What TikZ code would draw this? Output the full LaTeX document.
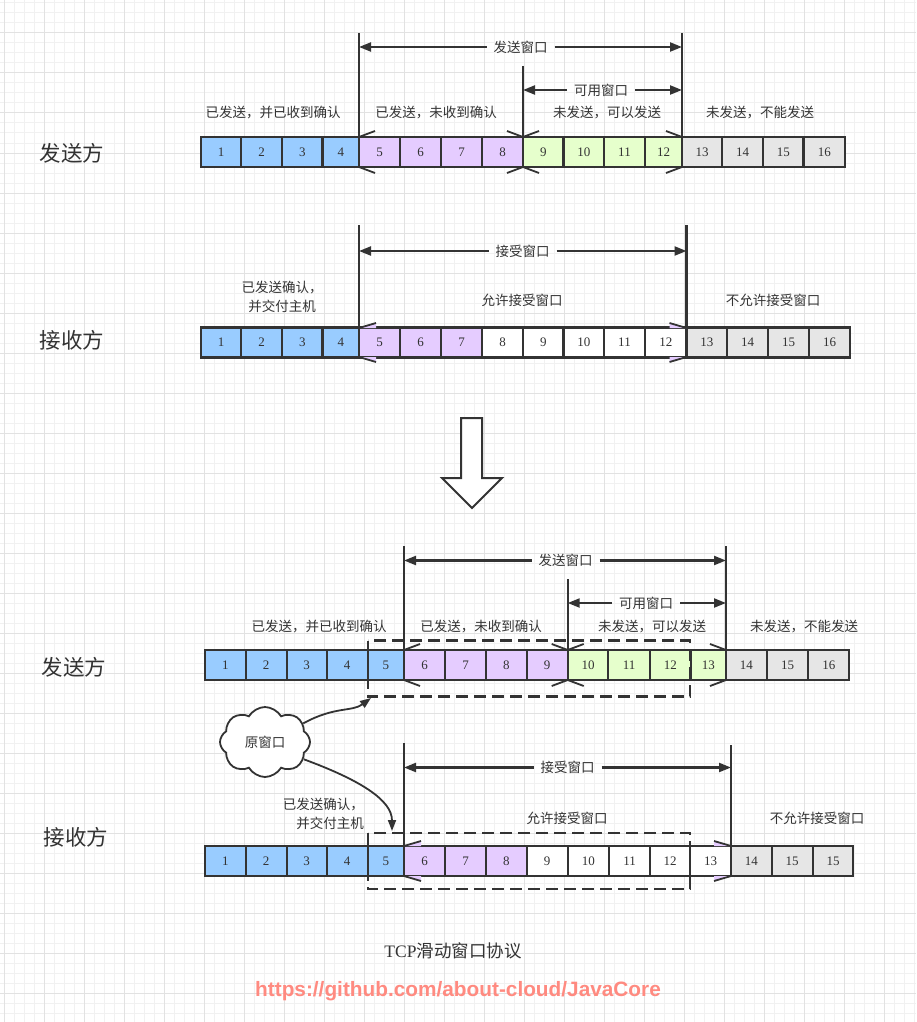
\documentclass[tikz,border=0pt]{standalone}
\usepackage{fontspec}
\setmainfont{Liberation Serif}
\newfontfamily\cjk{Noto Sans CJK SC}
\newfontfamily\urlfont{Liberation Sans}
\usetikzlibrary{arrows.meta,shapes.symbols}
\definecolor{ink}{HTML}{333333}
\definecolor{cblue}{HTML}{99CCFF}
\definecolor{cpurp}{HTML}{E5CCFF}
\definecolor{cgreen}{HTML}{E6FFCC}
\definecolor{cgray}{HTML}{E6E6E6}
\definecolor{gmin}{HTML}{F1F1F1}
\definecolor{gmaj}{HTML}{E2E2E2}
\definecolor{urlc}{HTML}{FF8A80}
\tikzset{
 cell/.style={draw=ink, line width=2.2pt, inner sep=0pt, outer sep=0pt, minimum height=30pt, font=\fontsize{13}{13}\selectfont, text=ink},
 lbl/.style={font=\cjk\fontsize{13.5}{18.3}\selectfont, text=ink, inner sep=0pt},
 side/.style={font=\cjk\fontsize{21.5}{24}\selectfont, text=ink, inner sep=0pt},
 wline/.style={draw=ink, line width=2.2pt},
 warr/.style={draw=ink, line width=2.2pt, -{Triangle[length=12pt,width=9pt]}},
 wlab/.style={lbl, outer sep=7pt},
 tickst/.style={draw=ink, line width=1.8pt},
 dashbox/.style={draw=ink, line width=2.4pt, dash pattern=on 12pt off 6pt},
 carr/.style={draw=ink, line width=1.8pt, -{Triangle[length=11pt,width=8pt]}},
}
\newcommand\cellrow[3]{%
 \foreach \a/\b/\t/\c [count=\i] in {#3}{%
   \node[cell, fill=\c, minimum width={\b-\a}] (#1\i) at ({(\a+\b)/2},#2) {\t};}}
\newcommand\tickR[3]{\draw[tickst] (#1,#2) -- ++(16,-6); \draw[tickst] (#1,#3) -- ++(16,6);}
\newcommand\tickL[3]{\draw[tickst] (#1,#2) -- ++(-16,-6); \draw[tickst] (#1,#3) -- ++(-16,6);}
\newcommand\tickX[3]{\tickR{#1}{#2}{#3}\tickL{#1}{#2}{#3}}
\newcommand\tickRf[3]{\fill[cpurp] (#1,#2) -- ++(17,-5) -- ++(0,5) -- cycle;
  \fill[cpurp] (#1,#3) -- ++(17,5) -- ++(0,-5) -- cycle;
  \draw[tickst] (#1,#2) -- ++(17,-5); \draw[tickst] (#1,#3) -- ++(17,5);}
\newcommand\tickLf[3]{\fill[cpurp] (#1,#2) -- ++(-17,-5) -- ++(0,5) -- cycle;
  \fill[cpurp] (#1,#3) -- ++(-17,5) -- ++(0,-5) -- cycle;
  \draw[tickst] (#1,#2) -- ++(-17,-5); \draw[tickst] (#1,#3) -- ++(-17,5);}
\begin{document}
\begin{tikzpicture}[x=1pt,y=-1pt]
\useasboundingbox (0,0) rectangle (916,1022);
\fill[white] (0,0) rectangle (916,1022);
% grid
\foreach \x in {4,14,...,914} \draw[gmin, line width=1pt] (\x,0) -- (\x,1022);
\foreach \y in {3,13,...,1013} \draw[gmin, line width=1pt] (0,\y) -- (916,\y);
\foreach \x in {4,44,...,884} \draw[gmaj, line width=1pt] (\x,0) -- (\x,1022);
\foreach \y in {33,73,...,993} \draw[gmaj, line width=1pt] (0,\y) -- (916,\y);

% ===== top sender =====
\node[side] (sendT) at (72,153) {发送方};
\cellrow{s}{152}{201/241/1/cblue,241/282/2/cblue,282/322.5/3/cblue,322.5/359/4/cblue,359/400/5/cpurp,400/441/6/cpurp,441/482/7/cpurp,482/523/8/cpurp,523/563.5/9/cgreen,563.5/604/10/cgreen,604/645/11/cgreen,645/682/12/cgreen,682/722/13/cgray,722/763/14/cgray,763/803.5/15/cgray,803.5/845/16/cgray}
\coordinate (sA) at (359,33);
\coordinate (sB) at (682,33);
\coordinate (sC) at (523,66);
\draw[wline] (sA) -- (s5.north west);
\draw[wline] (sB) -- (s13.north west);
\draw[wline] (sC) -- (s9.north west);
\node[wlab] (sw) at (520.5,47) {发送窗口};
\draw[warr] (sw.west) -- (sA |- sw.west);
\draw[warr] (sw.east) -- (sB |- sw.east);
\node[wlab] (sa) at (601,90) {可用窗口};
\draw[warr] (sa.west) -- (sC |- sa.west);
\draw[warr] (sa.east) -- (sB |- sa.east);
\node[lbl] (sl1) at (273,113) {已发送，并已收到确认};
\node[lbl] (sl2) at (436,113) {已发送，未收到确认};
\node[lbl] (sl3) at (607,113) {未发送，可以发送};
\node[lbl] (sl4) at (760,113) {未发送，不能发送};
\tickR{359}{137}{167}
\tickX{523}{137}{167}
\tickL{682}{137}{167}

% ===== top receiver =====
\node[side] (recvT) at (72,340) {接收方};
\cellrow{r}{342.5}{201/241/1/cblue,241/282/2/cblue,282/322.5/3/cblue,322.5/359/4/cblue,359/400/5/cpurp,400/441/6/cpurp,441/482/7/cpurp,482/523/8/white,523/563.5/9/white,563.5/604/10/white,604/645/11/white,645/686.5/12/white,686.5/727/13/cgray,727/768/14/cgray,768/809/15/cgray,809/850/16/cgray}
\coordinate (rA) at (359,225);
\coordinate (rB) at (686.5,225);
\draw[wline] (rA) -- (r5.north west);
\draw[wline] (rB) -- (r13.north west);
\node[wlab] (rw) at (522.5,251) {接受窗口};
\draw[warr] (rw.west) -- (rA |- rw.west);
\draw[warr] (rw.east) -- (rB |- rw.east);
\node[lbl, align=center] (rl1) at (282,297) {已发送确认，\\并交付主机};
\node[lbl] (rl2) at (522,300) {允许接受窗口};
\node[lbl] (rl3) at (773,300) {不允许接受窗口};
\tickRf{359}{328}{357}
\tickLf{686.5}{328}{357}

% ===== big down arrow =====
\draw[ink, line width=2pt, fill=white] (461,418) -- (482,418) -- (482,478) -- (502,478) -- (472,508) -- (442,478) -- (461,478) -- cycle;

% ===== bottom sender =====
\node[side] (sendB) at (74,667) {发送方};
\cellrow{b}{665}{205/245.7/1/cblue,245.7/286.7/2/cblue,286.7/326.7/3/cblue,326.7/367.7/4/cblue,367.7/404/5/cblue,404/445/6/cpurp,445/486/7/cpurp,486/526.7/8/cpurp,526.7/567.7/9/cpurp,567.7/608.3/10/cgreen,608.3/650/11/cgreen,650/690.7/12/cgreen,690.7/726/13/cgreen,726/766.7/14/cgray,766.7/808.3/15/cgray,808.3/849.3/16/cgray}
\coordinate (bA) at (404,546);
\coordinate (bB) at (726,546);
\coordinate (bC) at (567.7,579);
\draw[wline] (bA) -- (b6.north west);
\draw[wline] (bB) -- (b14.north west);
\draw[wline] (bC) -- (b10.north west);
\node[wlab] (bw) at (565.5,560.5) {发送窗口};
\draw[warr] (bw.west) -- (bA |- bw.west);
\draw[warr] (bw.east) -- (bB |- bw.east);
\node[wlab] (ba) at (646,603) {可用窗口};
\draw[warr] (ba.west) -- (bC |- ba.west);
\draw[warr] (ba.east) -- (bB |- ba.east);
\node[lbl] (bl1) at (319,627) {已发送，并已收到确认};
\node[lbl] (bl2) at (481,627) {已发送，未收到确认};
\node[lbl] (bl3) at (652,627) {未发送，可以发送};
\node[lbl] (bl4) at (804,627) {未发送，不能发送};
\tickR{404}{650}{680}
\tickX{567.7}{650}{680}
\tickL{726}{650}{680}
\draw[dashbox] (368,640.5) rectangle (690,696.5);

% ===== bottom receiver =====
\node[side] (recvB) at (76,837) {接收方};
\cellrow{q}{861}{205/245.7/1/cblue,245.7/286.7/2/cblue,286.7/326.7/3/cblue,326.7/367.7/4/cblue,367.7/404/5/cblue,404/445/6/cpurp,445/486/7/cpurp,486/526.7/8/cpurp,526.7/567.7/9/white,567.7/609/10/white,609/650/11/white,650/690/12/white,690/731/13/white,731/771.7/14/cgray,771.7/812.7/15/cgray,812.7/853.3/15/cgray}
\coordinate (qA) at (404,743);
\coordinate (qB) at (731,745);
\draw[wline] (qA) -- (q6.north west);
\draw[wline] (qB) -- (q14.north west);
\node[wlab] (qw) at (567.5,767.5) {接受窗口};
\draw[warr] (qw.west) -- (qA |- qw.west);
\draw[warr] (qw.east) -- (qB |- qw.east);
\node[lbl, align=right, anchor=east] (ql1) at (364,814) {已发送确认，\\并交付主机};
\node[lbl] (ql2) at (567,818) {允许接受窗口};
\node[lbl] (ql3) at (817,818) {不允许接受窗口};
\tickRf{404}{846}{876}
\tickLf{731}{846}{876}
\draw[dashbox] (368,833) rectangle (690,889);

% ===== cloud =====
\node[cloud, draw=ink, fill=white, line width=1.8pt, cloud puffs=8, cloud puff arc=120, aspect=1.3, minimum width=90pt, minimum height=70pt, inner sep=0pt, font=\cjk\fontsize{13.5}{16}\selectfont, text=ink] (cloud) at (265,742) {原窗口};
\coordinate (c1) at (371,698);
\coordinate (c2) at (392,831);
\draw[carr] (cloud.26) .. controls (335,706) and (352,712) .. (c1);
\draw[carr] (cloud.-24) .. controls (360,780) and (392,800) .. (c2);

% ===== captions =====
\node[inner sep=0pt, text=ink, font=\fontsize{17.5}{20}\selectfont] (title) at (453,951) {TCP{\cjk 滑动窗口协议}};
\node[inner sep=0pt, text=urlc, font=\urlfont\bfseries\fontsize{20.8}{24}\selectfont] (url) at (458,991) {https://github.com/about-cloud/JavaCore};
\end{tikzpicture}
\end{document}
